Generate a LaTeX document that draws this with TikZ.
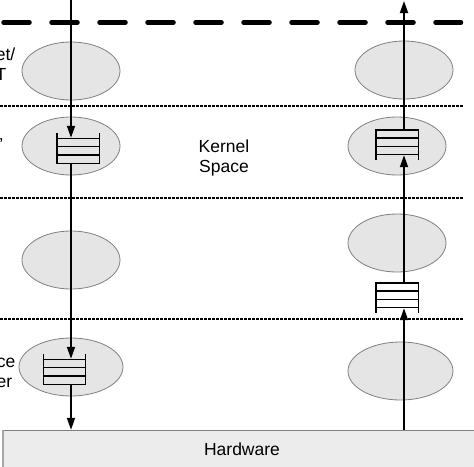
\documentclass[tikz,border=0pt]{standalone}
\usepackage{fontspec}
\setmainfont{Liberation Sans}
\usetikzlibrary{shapes.geometric,arrows.meta}

\begin{document}
\begin{tikzpicture}[x=1pt,y=-1pt,
  proc/.style={ellipse,draw=gray,fill=gray!20,line width=0.8pt,minimum width=98pt,minimum height=58pt,inner sep=0pt},
  queue/.style={minimum width=42pt,minimum height=25pt,inner sep=0pt},
  qline/.style={line width=1.4pt},
  flow/.style={line width=1.8pt,-{Triangle[length=12pt,width=8pt]}},
  layer/.style={line width=1.8pt,dash pattern=on 2.5pt off 1.5pt},
  lbl/.style={font=\fontsize{17.5}{20}\selectfont,inner sep=0pt}]
  \useasboundingbox (0,0) rectangle (474,466);
  % user / kernel boundary and layers
  \draw[line width=4.5pt,line cap=round,dash pattern=on 26pt off 22pt] (3.5,22.5) -- (461,22.5);
  \draw[layer] (0,106) -- (463,106);
  \draw[layer] (0,198) -- (463,198);
  \draw[layer] (0,319) -- (463,319);
  % hardware
  \node[lbl,draw=gray,fill=gray!15,minimum width=478pt,minimum height=38pt] (hw) at (242,449) {Hardware};
  \draw[gray!70,line width=2pt] (hw.north west) -- (hw.south west);
  % processing stages
  \node[proc] (l1) at (71,71) {};
  \node[proc] (l2) at (71,146) {};
  \node[proc] (l3) at (71,260) {};
  \node[proc,minimum width=104pt] (l4) at (71,367) {};
  \node[proc] (r1) at (404,70) {};
  \node[proc] (r2) at (397,146) {};
  \node[proc] (r3) at (397,243) {};
  \node[proc,minimum width=105pt] (r4) at (400.5,371) {};
  % queues
  \node[queue] (ql1) at (78,150.5) {};
  \node[queue] (ql2) at (64.5,371.5) {};
  \node[queue] (qr1) at (397,142.5) {};
  \node[queue] (qr2) at (397,295.5) {};
  \foreach \q in {ql1,ql2} {
    \draw[qline] ([yshift=5pt]\q.north west) -- (\q.south west) -- (\q.south east) -- ([yshift=5pt]\q.north east);
    \foreach \k in {1,2,3}
      \draw[qline] ([yshift=\k*8.33pt]\q.south west) -- ([yshift=\k*8.33pt]\q.south east);
  }
  \foreach \q in {qr1,qr2} {
    \draw[qline] ([yshift=-5pt]\q.south west) -- (\q.north west) -- (\q.north east) -- ([yshift=-5pt]\q.south east);
    \foreach \k in {1,2,3}
      \draw[qline] ([yshift=-\k*8.33pt]\q.north west) -- ([yshift=-\k*8.33pt]\q.north east);
  }
  % packet flow
  \coordinate (inL) at (71,0);
  \coordinate (outR) at (404,1);
  \draw[flow] (inL) -- (inL |- ql1.north);
  \draw[flow] (inL |- ql1.south) -- (inL |- ql2.north);
  \draw[flow] (inL |- ql2.south) -- (inL |- hw.north);
  \draw[flow] (outR |- hw.north) -- (outR |- qr2.south);
  \draw[flow] (outR |- qr2.north) -- (outR |- qr1.south);
  \draw[flow] (outR |- qr1.north) -- (outR);
  % labels
  \node[lbl,align=center] (kern) at (224,158) {Kernel\\Space};
  \node[lbl,anchor=base east] (s1a) at (15.5,60) {et/};
  \node[lbl,anchor=base east] (s1b) at (6.5,80) {T};
  \node[lbl,anchor=base east] (s2) at (3.5,150) {’};
  \node[lbl,anchor=base east] (s4a) at (15.5,367) {ce};
  \node[lbl,anchor=base east] (s4b) at (12.5,387) {er};
\end{tikzpicture}
\end{document}
